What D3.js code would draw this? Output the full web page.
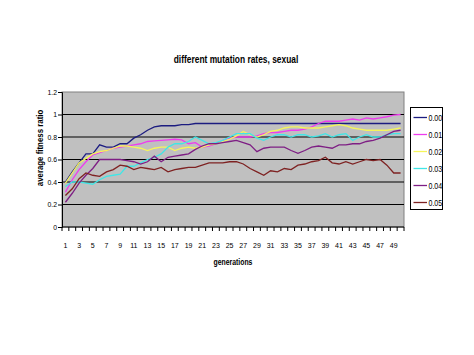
<!DOCTYPE html>
<html><head><meta charset="utf-8">
<script src="https://cdn.jsdelivr.net/npm/d3@7"></script>
<style>body{margin:0;background:#fff}svg{display:block}</style>
</head><body>
<script>
const generations = d3.range(1, 51);
const seriesNames = ["0.00","0.01","0.02","0.03","0.04","0.05"];
const rate000 = [0.40,0.49,0.57,0.65,0.65,0.73,0.71,0.71,0.74,0.74,0.79,0.82,0.86,0.89,0.90,0.90,0.90,0.91,0.91,0.92,
  0.92,0.92,0.92,0.92,0.92,0.92,0.92,0.92,0.92,0.92,0.92,0.92,0.92,0.92,0.92,0.92,0.92,0.92,0.92,0.92,
  0.92,0.92,0.92,0.92,0.92,0.92,0.92,0.92,0.92,0.92];
const rate001 = [0.31,0.42,0.51,0.58,0.64,0.66,0.68,0.70,0.71,0.72,0.73,0.74,0.76,0.765,0.77,0.775,0.78,0.775,0.74,0.75,
  0.71,0.72,0.74,0.77,0.79,0.80,0.80,0.80,0.81,0.83,0.84,0.84,0.85,0.86,0.86,0.87,0.89,0.92,0.94,0.94,
  0.94,0.95,0.96,0.95,0.97,0.96,0.97,0.98,0.995,1.0];
const rate002 = [0.39,0.48,0.57,0.61,0.65,0.67,0.68,0.70,0.72,0.72,0.71,0.70,0.68,0.70,0.71,0.71,0.68,0.70,0.71,0.70,
  0.71,0.73,0.74,0.76,0.78,0.81,0.85,0.82,0.80,0.82,0.85,0.86,0.88,0.89,0.89,0.88,0.88,0.88,0.89,0.90,
  0.91,0.90,0.88,0.87,0.86,0.86,0.86,0.86,0.87,0.88];
const rate003 = [0.36,0.40,0.40,0.39,0.38,0.42,0.45,0.46,0.47,0.54,0.54,0.57,0.60,0.62,0.65,0.71,0.74,0.74,0.76,0.80,
  0.77,0.74,0.75,0.77,0.80,0.83,0.83,0.83,0.79,0.77,0.80,0.82,0.82,0.80,0.82,0.82,0.80,0.81,0.83,0.80,
  0.82,0.83,0.77,0.80,0.82,0.80,0.80,0.82,0.83,0.83];
const rate004 = [0.22,0.30,0.39,0.46,0.52,0.60,0.60,0.60,0.60,0.59,0.58,0.56,0.58,0.63,0.58,0.62,0.63,0.64,0.65,0.69,
  0.72,0.74,0.74,0.75,0.76,0.77,0.75,0.73,0.67,0.70,0.71,0.71,0.71,0.68,0.655,0.68,0.71,0.72,0.71,0.70,
  0.73,0.73,0.74,0.74,0.76,0.77,0.79,0.82,0.85,0.86];
const rate005 = [0.28,0.34,0.43,0.48,0.46,0.45,0.49,0.51,0.55,0.54,0.51,0.53,0.52,0.51,0.53,0.49,0.51,0.52,0.53,0.53,
  0.55,0.57,0.57,0.57,0.58,0.58,0.56,0.52,0.49,0.46,0.50,0.49,0.52,0.51,0.55,0.56,0.58,0.59,0.62,0.57,
  0.56,0.58,0.56,0.58,0.60,0.59,0.60,0.55,0.48,0.48];
const yTicks = [0,0.2,0.4,0.6,0.8,1,1.2];
const xTickLabels = generations.filter(g => g % 2 === 1);
const allSeries = [rate000, rate001, rate002, rate003, rate004, rate005];
const colors = ["#1c1c80","#ee3cee","#f5f55a","#40e6e6","#7e1e84","#7e2222"];

const W = 474, H = 355;
const L = 62, R = 404, T = 92, B = 227;
const font = "'Liberation Sans',Arial,sans-serif";

const svg = d3.select("body").append("svg").attr("width", W).attr("height", H)
  .style("font-family", font);

// narrow text helper (condensed look)
function ntext(g, x0, y0, str, opts) {
  const o = Object.assign({size: 8, sx: 0.85, anchor: "middle", bold: false, rot: 0}, opts || {});
  return g.append("text")
    .attr("transform", `translate(${x0},${y0}) rotate(${o.rot}) scale(${o.sx},1)`)
    .attr("text-anchor", o.anchor).attr("font-size", o.size)
    .attr("font-weight", o.bold ? "bold" : "normal").attr("fill", "#000").text(str);
}

const x = d3.scaleBand().domain(generations).range([L, R]);
const y = d3.scaleLinear().domain([0, 1.2]).range([B, T]);

svg.append("rect").attr("x", L).attr("y", T).attr("width", R - L).attr("height", B - T)
  .attr("fill", "#c0c0c0").attr("stroke", "#808080").attr("stroke-width", 1);

svg.append("g").selectAll("line").data(yTicks.filter(v => v > 0 && v < 1.2)).join("line")
  .attr("x1", L).attr("x2", R).attr("y1", d => y(d)).attr("y2", d => y(d))
  .attr("stroke", "#000").attr("stroke-width", 1);

// Y axis
const yAxis = svg.append("g").attr("transform", `translate(${L},0)`)
  .call(d3.axisLeft(y).tickValues(yTicks).tickSize(4).tickFormat(""));
yAxis.select(".domain").attr("stroke", "#000");
yAxis.selectAll("line").attr("stroke", "#000");
const yfmt = d => d === 0 ? "0" : (d === 1 ? "1" : d3.format(".1f")(d));
yTicks.forEach(v => ntext(svg, 57, y(v) + 2.8, yfmt(v), {size: 7.8, sx: 0.88, anchor: "end"}));

// X axis with ticks at category boundaries
const xg = svg.append("g").attr("transform", `translate(0,${B})`);
xg.append("line").attr("x1", L).attr("x2", R).attr("stroke", "#000");
const bounds = generations.map(g => x(g)).concat([R]);
xg.selectAll("line.tk").data(bounds).join("line").attr("class", "tk")
  .attr("x1", d => d).attr("x2", d => d).attr("y1", 0).attr("y2", 4).attr("stroke", "#000");
xTickLabels.forEach(g => ntext(svg, x(g) + x.bandwidth() / 2, 247.5, String(g), {size: 7.8, sx: 0.9}));

// lines
const line = d3.line().x((d, i) => x(generations[i]) + x.bandwidth() / 2).y(d => y(d));
svg.append("g").selectAll("path").data(allSeries).join("path")
  .attr("d", d => line(d)).attr("fill", "none")
  .attr("stroke", (d, i) => colors[i]).attr("stroke-width", 1.3);

// titles
ntext(svg, 236, 63, "different mutation rates, sexual", {size: 10.5, sx: 0.8, bold: true});
ntext(svg, 233, 265, "generations", {size: 8.8, sx: 0.78, bold: true});
ntext(svg, 43, 148, "average fitness ratio", {size: 9.6, sx: 0.82, bold: true, rot: -90});

// legend
const lg = svg.append("g");
lg.append("rect").attr("x", 410.5).attr("y", 107.5).attr("width", 32).attr("height", 102)
  .attr("fill", "#fff").attr("stroke", "#000");
const ly = d3.scalePoint().domain(seriesNames).range([117.5, 202.5]);
seriesNames.forEach((n, i) => {
  lg.append("line").attr("x1", 413.5).attr("x2", 427).attr("y1", ly(n)).attr("y2", ly(n))
    .attr("stroke", colors[i]).attr("stroke-width", 1.3);
  ntext(lg, 428.5, ly(n) + 3, n, {size: 8.3, sx: 0.85, anchor: "start"});
});
</script>
</body></html>
